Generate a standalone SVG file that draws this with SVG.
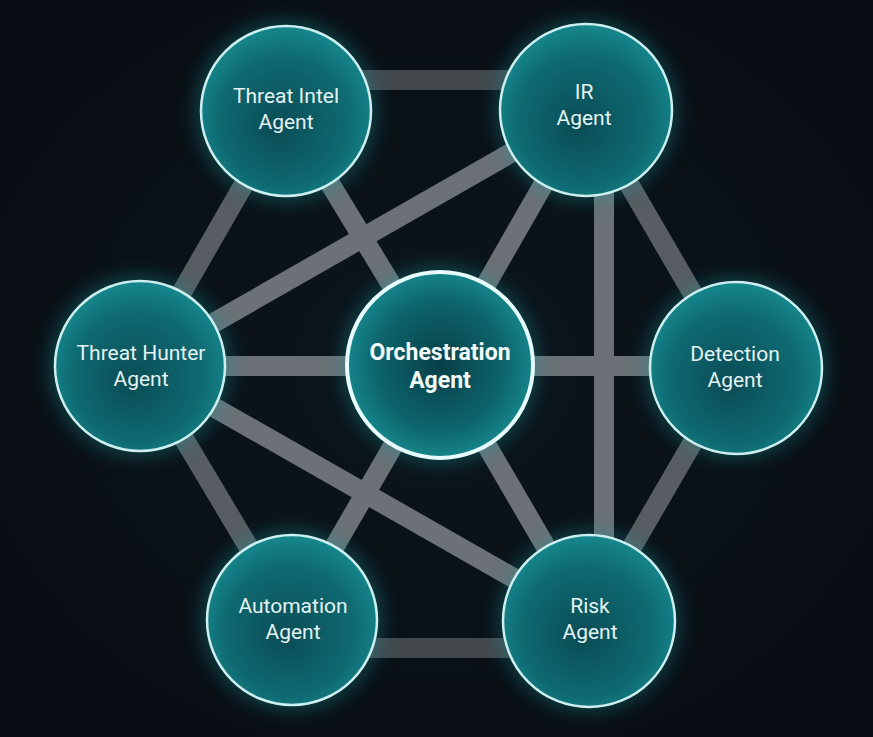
<svg xmlns="http://www.w3.org/2000/svg" width="873" height="737" viewBox="0 0 873 737">
  <defs>
    <radialGradient id="bg" cx="50%" cy="50%" r="70%">
      <stop offset="0" stop-color="#0c161c"/>
      <stop offset="1" stop-color="#080c12"/>
    </radialGradient>
    <radialGradient id="nodeFill" cx="50%" cy="55%" r="55%" fx="45%" fy="60%">
      <stop offset="0" stop-color="#0a4c55"/>
      <stop offset="0.7" stop-color="#0f6a72"/>
      <stop offset="1" stop-color="#15888d"/>
    </radialGradient>
    <radialGradient id="centerFill" cx="50%" cy="50%" r="52%">
      <stop offset="0" stop-color="#083f48"/>
      <stop offset="0.65" stop-color="#0d636b"/>
      <stop offset="1" stop-color="#16898e"/>
    </radialGradient>
    <filter id="blur" x="-50%" y="-50%" width="200%" height="200%">
      <feGaussianBlur stdDeviation="10"/>
    </filter>
  </defs>
  <style>
    .edge { stroke: #6b7176; stroke-width: 20; fill: none; stroke-linecap: butt; }
    .dim { stroke: #43484d; }
    .mid { stroke: #575d62; }
    .node circle.body { fill: url(#nodeFill); stroke: #cdeff0; stroke-width: 2.5; }
    .node circle.halo { fill: #14979b; opacity: 0.4; filter: url(#blur); }
    .label { font-family: Roboto, "Liberation Sans", sans-serif; font-size: 21px; fill: #e4f3f3; text-anchor: middle; }
    .bold { font-weight: bold; font-size: 23px; fill: #f2fafa; }
  </style>
  <rect width="873" height="737" fill="url(#bg)"/>

  <g id="connectors">
    <line class="edge dim" x1="286" y1="80" x2="586" y2="80"/>
    <line class="edge dim" x1="292" y1="648" x2="589" y2="648"/>
    <line class="edge mid" x1="286" y1="111" x2="140" y2="365"/>
    <line class="edge mid" x1="586" y1="110" x2="736" y2="368"/>
    <line class="edge mid" x1="140" y1="365" x2="292" y2="620"/>
    <line class="edge mid" x1="736" y1="368" x2="589" y2="621"/>
    <line class="edge" x1="286" y1="111" x2="440" y2="365"/>
    <line class="edge" x1="586" y1="110" x2="440" y2="365"/>
    <line class="edge" x1="440" y1="365" x2="292" y2="620"/>
    <line class="edge" x1="440" y1="365" x2="589" y2="621"/>
    <line class="edge" x1="140" y1="366" x2="440" y2="366"/>
    <line class="edge" x1="440" y1="366" x2="736" y2="366"/>
    <line class="edge" x1="140" y1="365" x2="586" y2="110"/>
    <line class="edge" x1="140" y1="365" x2="589" y2="621"/>
    <line class="edge" x1="604" y1="150" x2="604" y2="580"/>
  </g>

  <g id="node-threat-intel" class="node">
    <circle class="halo" cx="286" cy="111" r="90"/>
    <circle class="body" cx="286" cy="111" r="85"/>
    <text class="label" x="286" y="103">Threat Intel</text>
    <text class="label" x="286" y="129">Agent</text>
  </g>
  <g id="node-ir" class="node">
    <circle class="halo" cx="586" cy="110" r="90"/>
    <circle class="body" cx="586" cy="110" r="86"/>
    <text class="label" x="584" y="99">IR</text>
    <text class="label" x="584" y="125">Agent</text>
  </g>
  <g id="node-threat-hunter" class="node">
    <circle class="halo" cx="140" cy="366" r="90"/>
    <circle class="body" cx="140" cy="366" r="85"/>
    <text class="label" x="141" y="360">Threat Hunter</text>
    <text class="label" x="141" y="386">Agent</text>
  </g>
  <g id="node-orchestration" class="node">
    <circle class="halo" cx="440" cy="365" r="98"/>
    <circle class="body" cx="440" cy="365" r="93" style="fill:url(#centerFill);stroke:#e6fbfb;stroke-width:4"/>
    <text class="label bold" x="440" y="360">Orchestration</text>
    <text class="label bold" x="440" y="388">Agent</text>
  </g>
  <g id="node-detection" class="node">
    <circle class="halo" cx="736" cy="368" r="90"/>
    <circle class="body" cx="736" cy="368" r="86"/>
    <text class="label" x="735" y="361">Detection</text>
    <text class="label" x="735" y="387">Agent</text>
  </g>
  <g id="node-automation" class="node">
    <circle class="halo" cx="292" cy="620" r="90"/>
    <circle class="body" cx="292" cy="620" r="85"/>
    <text class="label" x="293" y="613">Automation</text>
    <text class="label" x="293" y="639">Agent</text>
  </g>
  <g id="node-risk" class="node">
    <circle class="halo" cx="589" cy="621" r="90"/>
    <circle class="body" cx="589" cy="621" r="86"/>
    <text class="label" x="590" y="613">Risk</text>
    <text class="label" x="590" y="639">Agent</text>
  </g>
</svg>
